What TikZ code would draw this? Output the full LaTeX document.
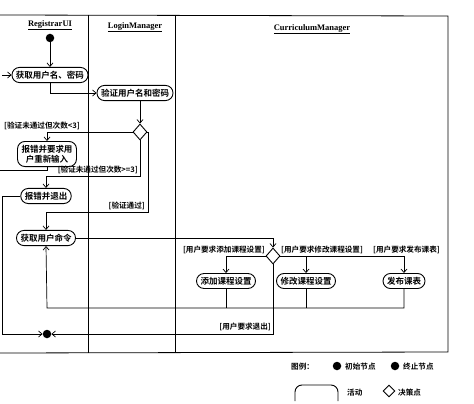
\documentclass[tikz,border=0pt]{standalone}
\usepackage{fontspec}
\setmainfont{Noto Sans CJK SC}[BoldFont={Noto Sans CJK SC Bold}]
\newfontfamily\lat{Liberation Serif}
\usetikzlibrary{arrows.meta,shapes.geometric}
\tikzset{
  act/.style={draw,line width=0.9pt,rounded corners=7.5pt,inner xsep=4pt,inner ysep=3.5pt,font=\fontsize{8.5}{10}\selectfont\bfseries,align=center,fill=white},
  dec/.style={draw,line width=0.9pt,diamond,minimum width=14pt,minimum height=16pt,inner sep=0pt,fill=white},
  dot/.style={circle,fill=black,minimum size=8.5pt,inner sep=0pt},
  flow/.style={line width=0.7pt,-{Straight Barb[length=3.5pt,width=6pt]}},
  ln/.style={line width=0.7pt},
  lbl/.style={font=\fontsize{7.6}{8.5}\selectfont\bfseries,inner sep=1pt},
  lane/.style={line width=0.8pt},
  hdr/.style={font=\lat\fontsize{8.5}{9.5}\selectfont\bfseries,inner sep=1pt}
}
\begin{document}
\begin{tikzpicture}[x=1pt,y=-1pt]
\useasboundingbox (0,0) rectangle (474,404);
% frame
\draw[lane] (0,15) -- (448,16) -- (448,352) -- (0,353);
\draw[lane] (88,15) -- (88,353);
\draw[lane] (175,15) -- (175,353);
% headers
\node[hdr] (h1) at (50,25) {\underline{RegistrarUI}};
\node[hdr] (h2) at (135,27) {\underline{LoginManager}};
\node[hdr] (h3) at (312,29) {\underline{CurriculumManager}};
% nodes
\node[dot] (start) at (50,38) {};
\node[act] (get) at (50,75) {获取用户名、密码};
\node[act] (ver) at (135,93) {验证用户名和密码};
\node[dec] (d1) at (140,132) {};
\node[act] (retry) at (47,154) {报错并要求用\\户重新输入};
\node[act] (quit) at (46,196) {报错并退出};
\node[act] (cmd) at (46,238) {获取用户命令};
\node[dec] (d2) at (273,256) {};
\node[act] (add) at (226,281) {添加课程设置};
\node[act] (mod) at (306,281) {修改课程设置};
\node[act] (pub) at (404,281) {发布课表};
\node[dot] (end) at (47,334) {};
% free ends
\coordinate (inL) at (2,75);
\coordinate (retL) at (0,170);
\coordinate (qL) at (2,196);
% connectors
\draw[flow] (start) -- (get);
\draw[flow] (inL) -- (get.west);
\draw[flow] (get.south) |- (ver.west);
\draw[flow] ([xshift=5pt]ver.south) -- (d1.north);
\draw[flow] (d1.west) -| (retry.north);
\node[lbl,anchor=south west] (l1) at (3,131) {[验证未通过但次数<3]};
\draw[ln] (retry.south) |- (retL);
\draw[flow] (d1.south) |- (46,176) -- (quit.north);
\node[lbl,anchor=south east] (l2) at (139,175) {[验证未通过但次数>=3]};
\draw[flow] (d1.east) -| (148,212) -| (cmd.north);
\node[lbl,anchor=south east] (l3) at (146,211) {[验证通过]};
\draw[flow] (quit.west) -- (qL) |- (end.west);
\draw[flow] (cmd.east) -| (d2.north);
\draw[flow] (d2.west) -| (add.north);
\draw[flow] (d2.east) -| (mod.north);
\draw[flow] (d2.east) -| (pub.north);
\node[lbl,anchor=south east] (l4) at (266,255) {[用户要求添加课程设置]};
\node[lbl,anchor=south west] (l5) at (280,255) {[用户要求修改课程设置]};
\node[lbl,anchor=south west] (l6) at (372,255) {[用户要求发布课表]};
\draw[ln] (add.south) -- (226,308);
\draw[ln] (mod.south) -- (306,308);
\draw[flow] (pub.south) |- (47,308) -- (cmd.south);
\draw[flow] (d2.south) |- (end.east);
\node[lbl,anchor=south east] (l7) at (272,332) {[用户要求退出]};
% legend
\node[lbl,anchor=west] (g0) at (290,367) {图例：};
\node[dot] (g1) at (337,366) {};
\node[lbl,anchor=west] (g1t) at (344,367) {初始节点};
\node[dot] (g2) at (395,366) {};
\node[lbl,anchor=west] (g2t) at (402,367) {终止节点};
\draw[line width=0.9pt,rounded corners=7pt] (295,401) -- (295,385) -- (338,385) -- (338,401);
\node[lbl,anchor=west] (g3t) at (346,393) {活动};
\node[dec,minimum width=12pt,minimum height=12pt] (g4) at (389,391) {};
\node[lbl,anchor=west] (g4t) at (397,393) {决策点};
\end{tikzpicture}
\end{document}
